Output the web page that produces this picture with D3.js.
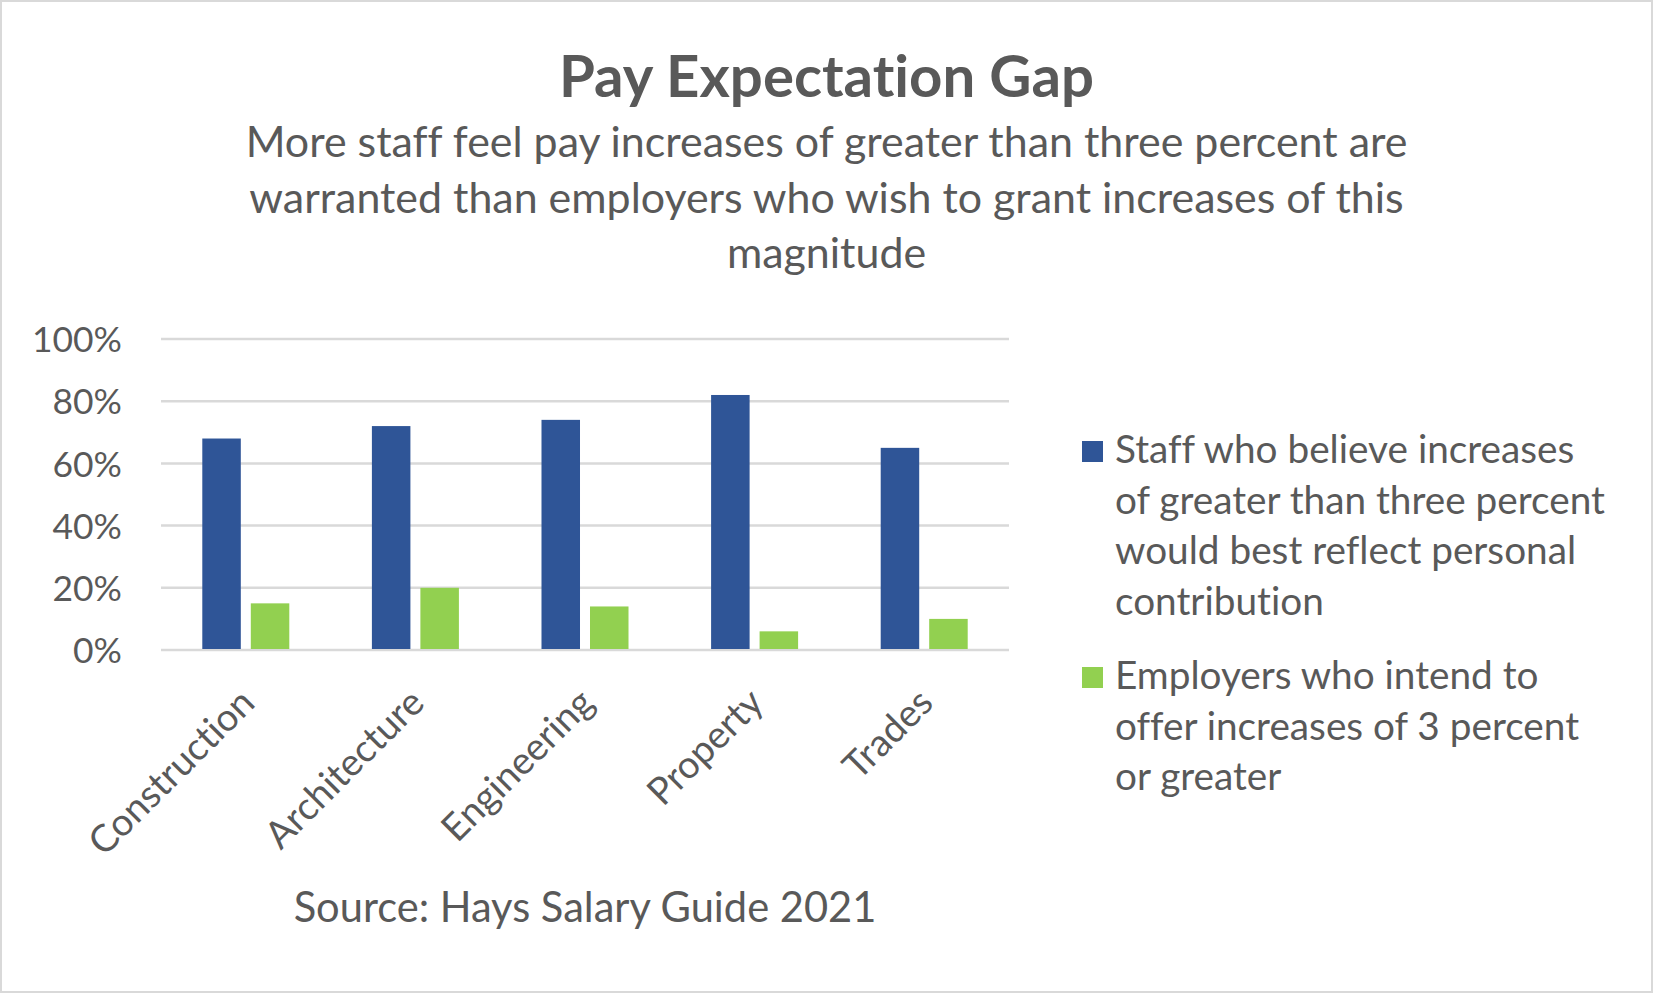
<!DOCTYPE html>
<html>
<head>
<meta charset="utf-8">
<script src="https://cdn.jsdelivr.net/npm/d3@7"></script>
<style>
  html, body { margin: 0; padding: 0; background: #fff; }
  svg text { font-family: Lato, "Open Sans", sans-serif; fill: #595959; font-variant-ligatures: none; }
</style>
</head>
<body>
<script>
// chart data
const categories = ["Construction", "Architecture", "Engineering", "Property", "Trades"];
const staffValues = [68, 72, 74, 82, 65];
const employerValues = [15, 20, 14, 6, 10];
const seriesKeys = ["staff", "employer"];
const seriesColors = ["#2F5597", "#92D050"];
const legendLines = [
  ["Staff who believe increases", "of greater than three percent", "would best reflect personal", "contribution"],
  ["Employers who intend to", "offer increases of 3 percent", "or greater"],
];
const yTicks = [0, 20, 40, 60, 80, 100];
const titleText = "Pay Expectation Gap";
const subtitleLines = [
  "More staff feel pay increases of greater than three percent are",
  "warranted than employers who wish to grant increases of this",
  "magnitude",
];
const sourceText = "Source: Hays Salary Guide 2021";

const W = 1653, H = 993;
const plot = { left: 161, right: 1009, top: 339, bottom: 650 };

const svg = d3.select("body").append("svg")
  .attr("width", W).attr("height", H);

svg.append("rect")
  .attr("x", 1).attr("y", 1)
  .attr("width", W - 2).attr("height", H - 2)
  .attr("fill", "#fff").attr("stroke", "#D9D9D9").attr("stroke-width", 2);

// size a font so a sample string hits a target width
function fitSize(sample, target, weight) {
  const t = svg.append("text").attr("font-size", 100)
    .attr("font-weight", weight || 400).text(sample);
  const w = t.node().getComputedTextLength();
  t.remove();
  return 100 * target / w;
}

const titleSize = fitSize(titleText, 535, 700);
const subSize = fitSize(subtitleLines[0], 1162);
const tickSize = fitSize("100%", 90);
const catSize = tickSize * 1.07;
const legendSize = fitSize(legendLines[0][1], 490);
const sourceSize = fitSize(sourceText, 583);

svg.append("text")
  .attr("x", W / 2).attr("y", 97)
  .attr("text-anchor", "middle")
  .attr("font-size", titleSize).attr("font-weight", 700)
  .text(titleText);

svg.selectAll(".sub").data(subtitleLines).join("text")
  .attr("class", "sub")
  .attr("x", W / 2).attr("y", (d, i) => 157 + i * 55.7)
  .attr("text-anchor", "middle")
  .attr("font-size", subSize)
  .text(d => d);

const y = d3.scaleLinear().domain([0, 100]).range([plot.bottom, plot.top]);
const x0 = d3.scaleBand().domain(categories).range([plot.left, plot.right]);
const x1 = d3.scaleBand().domain(seriesKeys)
  .range([x0.step() * 0.2435, x0.step() * 0.7565]).paddingInner(0.206);

// gridlines
svg.append("g").selectAll("line").data(yTicks).join("line")
  .attr("x1", plot.left).attr("x2", plot.right)
  .attr("y1", d => y(d)).attr("y2", d => y(d))
  .attr("stroke", "#D9D9D9").attr("stroke-width", 2.5);

// y axis labels
const yAxis = d3.axisLeft(y).tickValues(yTicks).tickSize(0).tickPadding(0)
  .tickFormat(d => d + "%");
const gy = svg.append("g").attr("transform", `translate(122,0)`).call(yAxis);
gy.select(".domain").remove();
gy.selectAll("text")
  .attr("font-size", tickSize)
  .attr("font-family", null)
  .attr("fill", "#595959")
  .attr("dy", "0.36em");

// bars
const rows = categories.map((c, i) => ({ cat: c, staff: staffValues[i], employer: employerValues[i] }));
const groups = svg.append("g").selectAll("g").data(rows).join("g")
  .attr("transform", d => `translate(${x0(d.cat)},0)`);
groups.selectAll("rect")
  .data(d => seriesKeys.map((k, i) => ({ key: k, value: d[k], color: seriesColors[i] })))
  .join("rect")
  .attr("x", d => x1(d.key))
  .attr("width", x1.bandwidth())
  .attr("y", d => y(d.value))
  .attr("height", d => y(0) - y(d.value) - 1)
  .attr("fill", d => d.color);

// category labels
svg.append("g").selectAll("text").data(categories).join("text")
  .attr("transform", d => `translate(${x0(d) + x0.bandwidth() / 2 + 11},705) rotate(-45)`)
  .attr("text-anchor", "end")
  .attr("font-size", catSize)
  .text(d => d);

// source
svg.append("text")
  .attr("x", (plot.left + plot.right) / 2).attr("y", 922)
  .attr("text-anchor", "middle")
  .attr("font-size", sourceSize)
  .text(sourceText);

// legend
const legendTops = [463, 689];
const lg = svg.append("g");
legendLines.forEach((lines, i) => {
  lg.append("rect")
    .attr("x", 1082).attr("y", legendTops[i] - 22)
    .attr("width", 21).attr("height", 21)
    .attr("fill", seriesColors[i]);
  lg.selectAll(null).data(lines).join("text")
    .attr("x", 1115).attr("y", (d, j) => legendTops[i] + j * 50.5)
    .attr("font-size", legendSize)
    .text(d => d);
});
</script>
</body>
</html>
